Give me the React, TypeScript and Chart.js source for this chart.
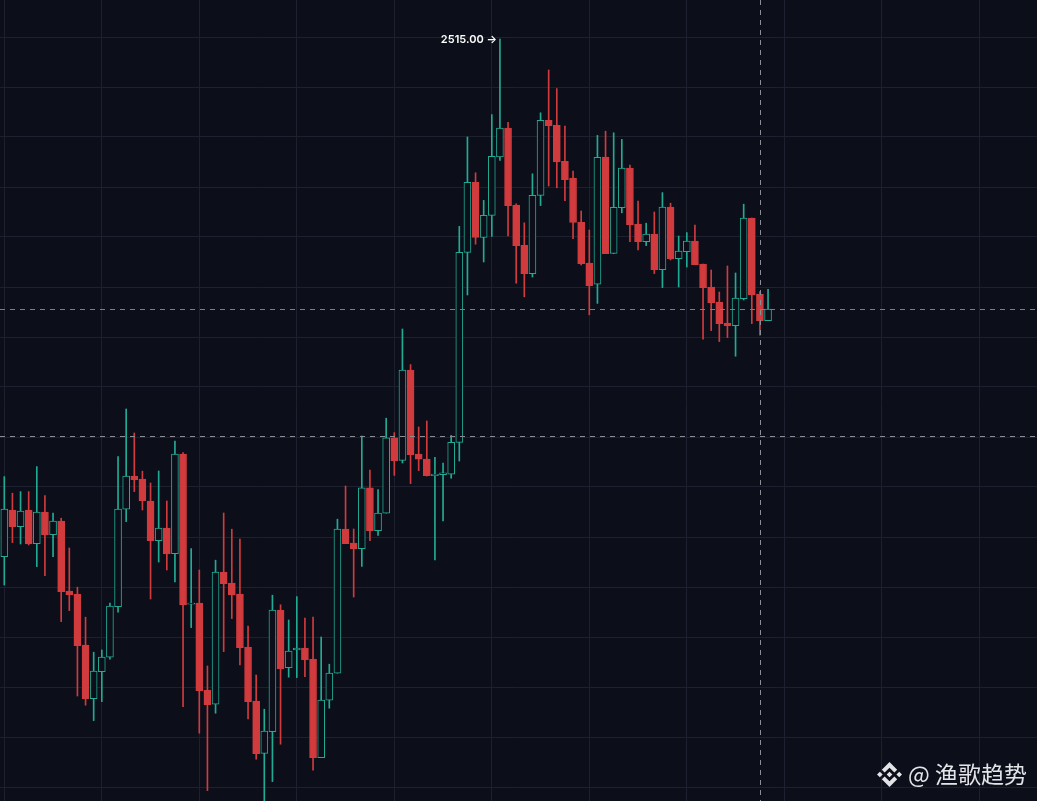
import React, { useEffect, useRef } from "react";
import { Chart, registerables } from "chart.js";

Chart.register(...registerables);

// OHLC series, one entry per candle
const opens = [2256.2, 2279.5, 2271.2, 2279.5, 2262.7, 2278.4, 2267.2, 2273.9, 2239.0, 2237.4,
  2211.9, 2185.2, 2198.7, 2205.9, 2231.2, 2279.9, 2296.4, 2294.9, 2284.0, 2264.2,
  2270.5, 2257.7, 2307.5, 2232.4, 2233.0, 2189.5, 2182.4, 2248.5, 2243.0, 2237.5,
  2211.0, 2184.0, 2157.8, 2168.7, 2229.5, 2200.7, 2209.5, 2210.5, 2205.0, 2155.7,
  2184.4, 2197.9, 2270.0, 2263.0, 2260.2, 2290.6, 2269.2, 2277.9, 2315.6, 2304.3,
  2349.5, 2307.4, 2304.9, 2296.7, 2297.2, 2297.4, 2313.3, 2408.3, 2443.3, 2415.8,
  2426.8, 2456.1, 2470.4, 2432.0, 2411.8, 2397.7, 2436.8, 2474.3, 2471.8, 2453.8,
  2445.4, 2423.3, 2402.9, 2392.4, 2455.9, 2407.8, 2430.7, 2450.4, 2422.4, 2413.7,
  2417.5, 2399.7, 2431.0, 2405.2, 2408.7, 2413.9, 2402.5, 2391.0, 2383.5, 2373.0,
  2371.7, 2385.2, 2425.5, 2387.5, 2374.2];

const highs = [2296.2, 2287.9, 2288.7, 2288.7, 2301.2, 2286.7, 2277.9, 2275.4, 2260.5, 2240.9,
  2225.9, 2208.4, 2209.5, 2232.9, 2306.2, 2330.0, 2318.0, 2298.9, 2293.0, 2299.0,
  2284.0, 2314.0, 2308.2, 2260.2, 2249.5, 2201.5, 2254.4, 2278.0, 2269.9, 2265.0,
  2221.5, 2197.0, 2179.9, 2236.9, 2232.1, 2224.5, 2236.2, 2225.4, 2225.9, 2216.0,
  2202.4, 2274.9, 2291.5, 2270.0, 2316.5, 2299.5, 2289.7, 2325.4, 2318.2, 2370.0,
  2352.2, 2321.0, 2324.0, 2305.8, 2303.0, 2316.8, 2421.3, 2466.0, 2448.1, 2434.3,
  2477.2, 2515.0, 2473.3, 2432.6, 2423.1, 2447.6, 2478.1, 2499.5, 2490.2, 2471.5,
  2449.0, 2429.0, 2419.5, 2466.8, 2468.9, 2468.1, 2464.8, 2451.9, 2434.0, 2422.9,
  2428.5, 2438.2, 2432.9, 2416.5, 2418.2, 2422.0, 2402.5, 2399.5, 2388.5, 2401.5,
  2398.0, 2432.4, 2425.5, 2388.7, 2389.8];

const lows = [2242.0, 2263.2, 2262.5, 2262.0, 2251.2, 2246.7, 2256.2, 2223.7, 2229.2, 2186.5,
  2181.9, 2174.2, 2183.7, 2204.9, 2228.4, 2273.7, 2288.7, 2279.5, 2235.0, 2253.5,
  2249.5, 2243.5, 2181.2, 2220.7, 2167.9, 2139.2, 2177.9, 2208.7, 2225.2, 2202.0,
  2175.0, 2154.9, 2132.0, 2143.7, 2162.4, 2195.9, 2195.7, 2196.2, 2149.4, 2155.7,
  2180.4, 2197.9, 2262.7, 2236.0, 2251.3, 2264.2, 2266.8, 2277.9, 2296.8, 2303.0,
  2292.7, 2299.2, 2296.5, 2254.5, 2274.0, 2295.4, 2304.0, 2387.0, 2412.4, 2403.5,
  2416.3, 2454.3, 2416.5, 2392.9, 2386.1, 2396.0, 2431.7, 2441.5, 2440.6, 2434.2,
  2415.2, 2402.0, 2377.1, 2382.8, 2407.7, 2407.7, 2428.1, 2413.7, 2409.5, 2411.7,
  2397.7, 2390.7, 2404.5, 2391.0, 2401.0, 2402.2, 2364.9, 2369.2, 2363.7, 2365.7,
  2356.4, 2384.5, 2372.7, 2366.9, 2374.2];

const closes = [2279.9, 2271.2, 2278.9, 2262.5, 2278.4, 2267.0, 2273.9, 2238.7, 2237.2, 2211.7,
  2185.2, 2198.9, 2205.9, 2231.4, 2279.9, 2296.4, 2294.7, 2284.2, 2264.2, 2270.4,
  2257.5, 2307.4, 2232.2, 2233.0, 2189.2, 2182.2, 2248.4, 2242.7, 2237.0, 2210.7,
  2183.7, 2157.7, 2168.9, 2229.4, 2200.1, 2208.9, 2210.5, 2204.7, 2155.7, 2184.4,
  2197.9, 2269.9, 2262.7, 2260.2, 2290.6, 2269.2, 2277.9, 2315.6, 2304.0, 2349.5,
  2307.2, 2304.9, 2296.7, 2297.5, 2298.1, 2313.3, 2408.3, 2443.3, 2415.8, 2426.8,
  2456.3, 2470.4, 2431.7, 2411.7, 2397.7, 2436.8, 2474.3, 2471.7, 2453.6, 2444.7,
  2423.3, 2402.7, 2391.7, 2455.8, 2407.7, 2430.8, 2450.4, 2422.2, 2413.7, 2417.4,
  2399.7, 2430.9, 2405.0, 2408.9, 2413.9, 2402.2, 2390.7, 2383.2, 2372.7, 2371.7,
  2385.4, 2425.4, 2387.0, 2374.2, 2379.9];

// grid positions (price levels and candle indices)
const gridPrices = [2516, 2491, 2466, 2441, 2416, 2391, 2366, 2341, 2316, 2291, 2266, 2241, 2216, 2191, 2166, 2141];
const gridIndices = [0, 12, 24, 36, 48, 60, 72, 84, 96, 108, 120];

// crosshair
const crossIndex = 93;
const crossPrice = 2316.75;

const watermark = "@ 渔歌趋势";

const BG = "#0c0f1a";
const GRID = "#1d202e";
const GREEN = "#22ab94";
const RED = "#d13b3e";
const CROSS = "#8a8d96";

const W = 1037;
const H = 801;

const overlayPlugin = {
  id: "overlay",
  afterDatasetsDraw(chart: any) {
    const { ctx, chartArea, scales } = chart;
    const xs = scales.x;
    const ys = scales.y;
    ctx.save();
    ctx.lineWidth = 1;
    // last price line
    const lastY = Math.round(ys.getPixelForValue(closes[closes.length - 1])) + 0.5;
    ctx.setLineDash([5, 5]);
    ctx.strokeStyle = GREEN;
    ctx.beginPath();
    ctx.moveTo(chartArea.left, lastY);
    ctx.lineTo(chartArea.right, lastY);
    ctx.stroke();
    // crosshair
    ctx.strokeStyle = CROSS;
    const cy = Math.round(ys.getPixelForValue(crossPrice)) + 0.5;
    ctx.beginPath();
    ctx.moveTo(chartArea.left, cy);
    ctx.lineTo(chartArea.right, cy);
    ctx.stroke();
    const cx = Math.round(xs.getPixelForValue(crossIndex)) + 0.5;
    ctx.beginPath();
    ctx.moveTo(cx, chartArea.top);
    ctx.lineTo(cx, chartArea.bottom);
    ctx.stroke();
    ctx.setLineDash([]);
    // max high label
    let mi = 0;
    for (let i = 1; i < highs.length; i++) if (highs[i] > highs[mi]) mi = i;
    const hx = xs.getPixelForValue(mi);
    const hy = ys.getPixelForValue(highs[mi]);
    ctx.fillStyle = "#ffffff";
    ctx.font = "600 11px Inter, Roboto, sans-serif";
    ctx.textAlign = "right";
    ctx.textBaseline = "middle";
    ctx.fillText(highs[mi].toFixed(2) + " \u2192", hx - 3, hy + 0.5);
    ctx.restore();
  },
};

export default function App() {
  const ref = useRef<HTMLCanvasElement | null>(null);

  useEffect(() => {
    if (!ref.current) return;
    const up = opens.map((o, i) => closes[i] >= o);
    const chart = new Chart(ref.current, {
      type: "bar",
      data: {
        datasets: [
          {
            label: "body",
            data: opens.map((o, i) => ({ x: i, y: [o, closes[i]] })) as any,
            backgroundColor: up.map((u) => (u ? BG : RED)),
            borderColor: up.map((u) => (u ? GREEN : RED)),
            borderWidth: 1,
            borderSkipped: false,
            barThickness: 7,
            minBarLength: 1,
            grouped: false,
            order: 0,
          } as any,
          {
            label: "wick",
            data: lows.map((l, i) => ({ x: i, y: [l, highs[i]] })) as any,
            backgroundColor: up.map((u) => (u ? GREEN : RED)),
            borderWidth: 0,
            barThickness: 1,
            grouped: false,
            order: 1,
          } as any,
        ],
      },
      options: {
        animation: false,
        responsive: false,
        devicePixelRatio: 1,
        events: [],
        layout: { padding: 0 },
        plugins: { legend: { display: false }, tooltip: { enabled: false } },
        scales: {
          x: {
            type: "linear",
            offset: false,
            min: -4.3 / 8.125,
            max: (W - 4.3) / 8.125,
            ticks: { display: false },
            border: { display: false },
            grid: { color: GRID, drawTicks: false, lineWidth: 1, offset: false },
            afterBuildTicks: (s: any) => {
              s.ticks = gridIndices.map((v) => ({ value: v }));
            },
          },
          y: {
            type: "linear",
            min: 2534.5 - H / 2,
            max: 2534.5,
            ticks: { display: false },
            border: { display: false },
            grid: { color: GRID, drawTicks: false, lineWidth: 1 },
            afterBuildTicks: (s: any) => {
              s.ticks = gridPrices.map((v) => ({ value: v }));
            },
          },
        },
      } as any,
      plugins: [overlayPlugin],
    });
    return () => chart.destroy();
  }, []);

  return (
    <div style={{ position: "fixed", left: 0, top: 0, width: W, height: H, background: BG, overflow: "hidden" }}>
      <canvas ref={ref} width={W} height={H} style={{ display: "block", width: W, height: H }} />
      <svg
        viewBox="0 0 126.6 126.6"
        width={25}
        height={25}
        style={{ position: "absolute", left: 877, top: 762 }}
      >
        <path
          fill="#e3e4e8"
          d="M38.73 53.2l24.59-24.58 24.6 24.6 14.3-14.31L63.32 0 24.42 38.9zM0 63.31l14.3-14.31 14.31 14.31-14.31 14.3zM38.73 73.41l24.59 24.59 24.6-24.6 14.31 14.29-38.91 38.91-38.91-38.88zM98.28 63.31l14.3-14.31 14.31 14.31-14.31 14.3zM77.83 63.3L63.32 48.78 48.81 63.3l14.51 14.52z"
        />
      </svg>
      <div
        style={{
          position: "absolute",
          left: 908,
          top: 757,
          fontFamily: "'Noto Sans CJK SC', 'Noto Sans', sans-serif",
          fontSize: 23,
          lineHeight: "32px",
          color: "#e3e4e8",
          whiteSpace: "nowrap",
        }}
      >
        {watermark}
      </div>
    </div>
  );
}
